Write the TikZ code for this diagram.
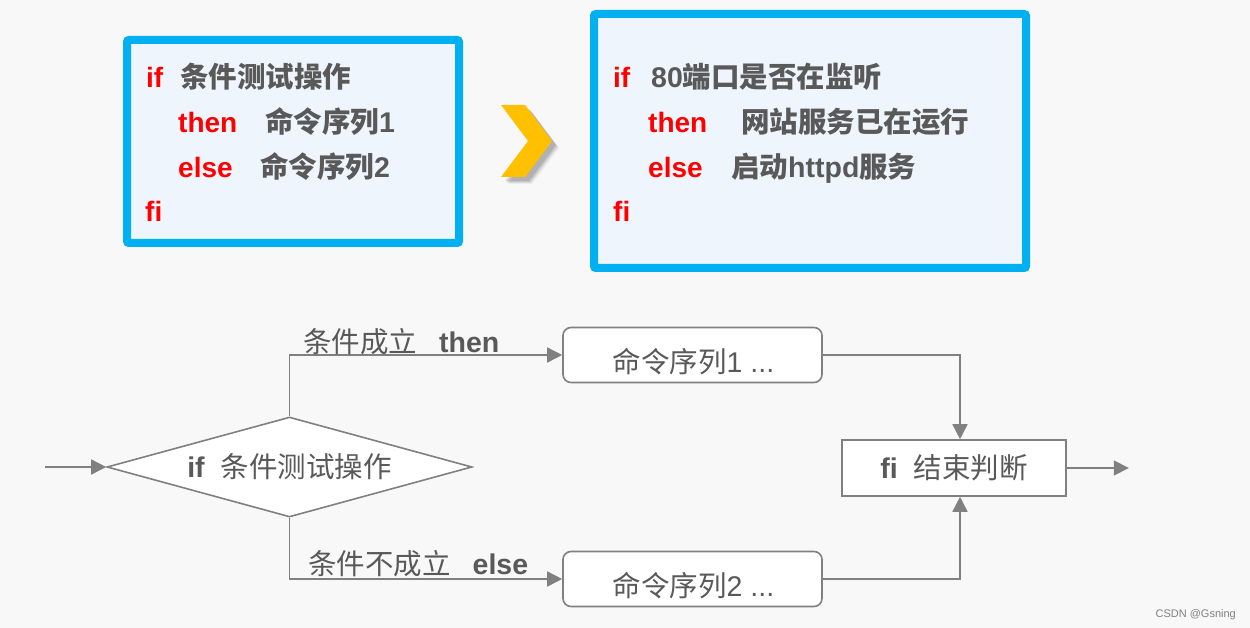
\documentclass[tikz,border=0pt]{standalone}
\usepackage{fontspec}
\setmainfont{Liberation Sans}
\newfontfamily\cjk{Noto Sans CJK SC}
\usetikzlibrary{shapes.geometric,arrows.meta,calc}
\definecolor{bg}{HTML}{F8F8F8}
\definecolor{frame}{HTML}{00B0F0}
\definecolor{boxfill}{HTML}{EEF5FD}
\definecolor{txt}{HTML}{595959}
\definecolor{kw}{HTML}{FF0000}
\definecolor{ln}{HTML}{808080}
\definecolor{chev}{HTML}{FFC000}
\newcommand{\zh}[1]{{\cjk #1}}
\tikzset{
  codebox/.style={draw=frame, line width=8pt, fill=boxfill, rounded corners=2pt, inner sep=0pt},
  kwtext/.style={anchor=base west, inner sep=0pt, text=kw, font=\fontsize{28}{28}\selectfont\bfseries},
  cntext/.style={anchor=base west, inner sep=0pt, text=txt, font=\fontsize{28.5}{28}\selectfont\bfseries},
  flowbox/.style={draw=ln, line width=1.6pt, fill=white, inner sep=0pt},
  flowtext/.style={text=txt, font=\fontsize{28.5}{28}\selectfont},
  flow/.style={draw=ln, line width=1.6pt, -{Triangle[length=15pt,width=15pt]}},
  lbl/.style={anchor=base west, inner sep=0pt, text=txt, font=\fontsize{28.5}{28}\selectfont}
}
\begin{document}
\begin{tikzpicture}[x=1pt,y=-1pt]
\fill[bg] (0,0) rectangle (1250,628);
\useasboundingbox (0,0) rectangle (1250,628);

% top code boxes
\node[codebox, minimum width=332pt, minimum height=203pt] (box1) at (293,141.5) {};
\node[codebox, minimum width=432pt, minimum height=254pt] (box2) at (810,141) {};

\node[kwtext] (k1a) at (146,88) {if};
\node[cntext] (t1a) at (180,88) {\zh{条件测试操作}};
\node[kwtext] (k1b) at (178,133) {then};
\node[cntext] (t1b) at (265,133) {\zh{命令序列}1};
\node[kwtext] (k1c) at (178,178) {else};
\node[cntext] (t1c) at (260,178) {\zh{命令序列}2};
\node[kwtext] (k1d) at (145,222) {fi};

\node[kwtext] (k2a) at (613,88) {if};
\node[cntext] (t2a) at (651,88) {80\zh{端口是否在监听}};
\node[kwtext] (k2b) at (648,133) {then};
\node[cntext] (t2b) at (741,133) {\zh{网站服务已在运行}};
\node[kwtext] (k2c) at (648,178) {else};
\node[cntext] (t2c) at (731,178) {\zh{启动}httpd\zh{服务}};
\node[kwtext] (k2d) at (613,222) {fi};

% chevron with soft shadow
\foreach \o/\a in {7/0.05,6/0.07,5/0.09,4/0.1}{
  \fill[black, opacity=\a] (501+\o,105+\o) -- (525+\o,105+\o) -- (552+\o,141+\o) -- (525+\o,177+\o) -- (501+\o,177+\o) -- (528+\o,141+\o) -- cycle;
}
\fill[chev] (501,105) -- (525,105) -- (552,141) -- (525,177) -- (501,177) -- (528,141) -- cycle;

% flowchart
\coordinate (in) at (45,467);
\node[diamond, flowbox, flowtext, minimum width=365pt, minimum height=100pt, aspect=3.65] (cond) at (289.5,467) {\textbf{if}\hspace{16pt}\zh{条件测试操作}};
\node[flowbox, rounded corners=8pt, minimum width=259pt, minimum height=55pt] (c1) at (692.5,355) {};
\node[flowbox, rounded corners=8pt, minimum width=259pt, minimum height=55pt] (c2) at (692.5,579) {};
\node[flowtext, inner sep=0pt] (c1t) at ($(c1.center)+(1,7)$) {\zh{命令序列}1 ...};
\node[flowtext, inner sep=0pt] (c2t) at ($(c2.center)+(1,7)$) {\zh{命令序列}2 ...};
\node[flowbox, flowtext, minimum width=224pt, minimum height=56pt] (fi) at (954,468) {\textbf{fi}\hspace{16pt}\zh{结束判断}};
\coordinate (out) at ($(fi.east)+(62,0)$);

\draw[flow] (in) -- (cond.west);
\draw[flow] (cond.north) |- (c1.west);
\draw[flow] (cond.south) |- (c2.west);
\draw[flow] (c1.east) -| ($(fi.north)+(6,0)$);
\draw[flow] (c2.east) -| ($(fi.south)+(6,0)$);
\draw[flow] (fi.east) -- (out);

\node[lbl] (l1) at (303,352) {\zh{条件成立}\hspace{22pt}\textbf{then}};
\node[lbl] (l2) at (308,574) {\zh{条件不成立}\hspace{22pt}\textbf{else}};

\node[anchor=base east, inner sep=0pt, text=gray, font=\fontsize{11}{11}\selectfont] (wm) at (1236,617) {CSDN @Gsning};
\end{tikzpicture}
\end{document}
